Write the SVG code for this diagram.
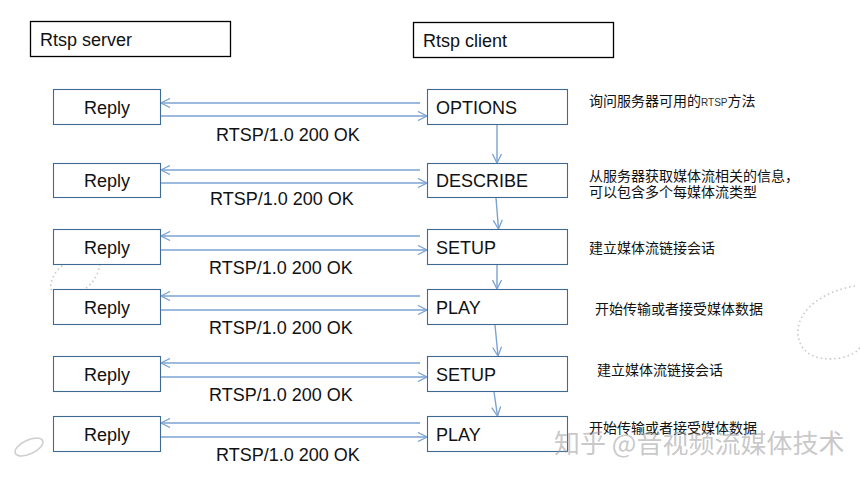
<svg xmlns="http://www.w3.org/2000/svg" width="860" height="479" viewBox="0 0 860 479">
<style>
.title{fill:#fff;stroke:#000;stroke-width:1.3}
.box{fill:#fff;stroke:#3f6a94;stroke-width:1.1}
.t{font-family:"Liberation Sans",Arial,sans-serif;font-size:18px;fill:#111}
.ok{font-family:"Liberation Sans",Arial,sans-serif;font-size:18px;fill:#111}
.cn{font-family:"Noto Sans CJK SC","Liberation Sans",sans-serif;font-size:14px;fill:#111}
.sm{font-family:"Liberation Sans",Arial,sans-serif;font-size:10px;fill:#333}
.c{stroke:#7aa3d2;stroke-width:1.4;fill:none}
.deco{fill:none;stroke:#c8c8c8;stroke-width:1.6;stroke-dasharray:1.5 3}
.wm{font-family:"Noto Sans CJK SC",sans-serif;font-size:26px;fill:#9a9a9a;fill-opacity:0.55}
</style>
<defs>
<marker id="ah" viewBox="0 0 10 10" refX="10" refY="5" markerWidth="10" markerHeight="10" markerUnits="userSpaceOnUse" orient="auto">
<path d="M1,0.5 L10,5 L1,9.5" fill="none" stroke="#7aa3d2" stroke-width="1.3"/>
</marker>
</defs>
<rect width="860" height="479" fill="#fff"/>
<g id="decorations">
<path class="deco" d="M66,263 C55,270 48,282 52,292 M100,264 C98,276 92,284 86,288"/>
<path class="deco" d="M855,286 C830,290 800,305 798,330 C797,352 815,362 840,358 C852,356 860,350 860,346"/>
<ellipse cx="29" cy="447" rx="15" ry="7" transform="rotate(-25 29 447)" fill="none" stroke="#cfcfcf" stroke-width="1.6"/>
</g>
<g id="server-title"><rect class="title" x="30.5" y="21.5" width="200" height="35"/><text class="t" x="40" y="46">Rtsp server</text></g>
<g id="client-title"><rect class="title" x="413.5" y="22.5" width="200" height="35"/><text class="t" x="423" y="47">Rtsp client</text></g>

<g id="reply1"><rect class="box" x="53.5" y="89.5" width="107" height="35"/><text class="t" x="107" y="114" text-anchor="middle">Reply</text></g>
<g id="reply2"><rect class="box" x="53.5" y="163.5" width="107" height="34"/><text class="t" x="107" y="187" text-anchor="middle">Reply</text></g>
<g id="reply3"><rect class="box" x="53.5" y="229.5" width="107" height="35"/><text class="t" x="107" y="254" text-anchor="middle">Reply</text></g>
<g id="reply4"><rect class="box" x="53.5" y="289.5" width="107" height="35"/><text class="t" x="107" y="314" text-anchor="middle">Reply</text></g>
<g id="reply5"><rect class="box" x="53.5" y="356.5" width="107" height="35"/><text class="t" x="107" y="381" text-anchor="middle">Reply</text></g>
<g id="reply6"><rect class="box" x="53.5" y="416.5" width="107" height="35"/><text class="t" x="107" y="441" text-anchor="middle">Reply</text></g>

<g id="options"><rect class="box" x="427.5" y="89.5" width="140" height="35"/><text class="t" x="436" y="114">OPTIONS</text></g>
<g id="describe"><rect class="box" x="427.5" y="163.5" width="140" height="34"/><text class="t" x="436" y="187">DESCRIBE</text></g>
<g id="setup1"><rect class="box" x="427.5" y="229.5" width="140" height="35"/><text class="t" x="436" y="254">SETUP</text></g>
<g id="play1"><rect class="box" x="427.5" y="289.5" width="140" height="35"/><text class="t" x="436" y="314">PLAY</text></g>
<g id="setup2"><rect class="box" x="427.5" y="356.5" width="140" height="35"/><text class="t" x="436" y="381">SETUP</text></g>
<g id="play2"><rect class="box" x="427.5" y="416.5" width="140" height="35"/><text class="t" x="436" y="441">PLAY</text></g>

<g id="connectors">
<line class="c" x1="420" y1="103" x2="161" y2="103" marker-end="url(#ah)"/>
<line class="c" x1="161" y1="116" x2="427" y2="116" marker-end="url(#ah)"/>
<line class="c" x1="420" y1="170" x2="161" y2="170" marker-end="url(#ah)"/>
<line class="c" x1="161" y1="183" x2="427" y2="183" marker-end="url(#ah)"/>
<line class="c" x1="420" y1="236" x2="161" y2="236" marker-end="url(#ah)"/>
<line class="c" x1="161" y1="250" x2="427" y2="250" marker-end="url(#ah)"/>
<line class="c" x1="420" y1="296" x2="161" y2="296" marker-end="url(#ah)"/>
<line class="c" x1="161" y1="310" x2="427" y2="310" marker-end="url(#ah)"/>
<line class="c" x1="420" y1="363" x2="161" y2="363" marker-end="url(#ah)"/>
<line class="c" x1="161" y1="377" x2="427" y2="377" marker-end="url(#ah)"/>
<line class="c" x1="420" y1="423" x2="161" y2="423" marker-end="url(#ah)"/>
<line class="c" x1="161" y1="437" x2="427" y2="437" marker-end="url(#ah)"/>
<line class="c" x1="497" y1="125" x2="497" y2="163" marker-end="url(#ah)"/>
<line class="c" x1="496" y1="198" x2="498.5" y2="229" marker-end="url(#ah)"/>
<line class="c" x1="497" y1="265" x2="497" y2="289" marker-end="url(#ah)"/>
<line class="c" x1="495" y1="325" x2="498" y2="356" marker-end="url(#ah)"/>
<line class="c" x1="494" y1="392" x2="497.5" y2="416" marker-end="url(#ah)"/>
</g>

<g id="labels">
<text class="ok" x="216" y="141">RTSP/1.0 200 OK</text>
<text class="ok" x="210" y="205">RTSP/1.0 200 OK</text>
<text class="ok" x="209" y="274">RTSP/1.0 200 OK</text>
<text class="ok" x="209" y="334">RTSP/1.0 200 OK</text>
<text class="ok" x="209" y="401">RTSP/1.0 200 OK</text>
<text class="ok" x="216" y="461">RTSP/1.0 200 OK</text>
</g>

<g id="notes">
<text class="cn" x="589" y="106">询问服务器可用的<tspan class="sm">RTSP</tspan>方法</text>
<text class="cn" x="589" y="181">从服务器获取媒体流相关的信息，<tspan x="589" y="197">可以包含多个每媒体流类型</tspan></text>
<text class="cn" x="589" y="253">建立媒体流链接会话</text>
<text class="cn" x="595" y="314">开始传输或者接受媒体数据</text>
<text class="cn" x="597" y="375">建立媒体流链接会话</text>
<text class="cn" x="589" y="433">开始传输或者接受媒体数据</text>
</g>

<text class="wm" x="554" y="453">知乎 @音视频流媒体技术</text>
</svg>
